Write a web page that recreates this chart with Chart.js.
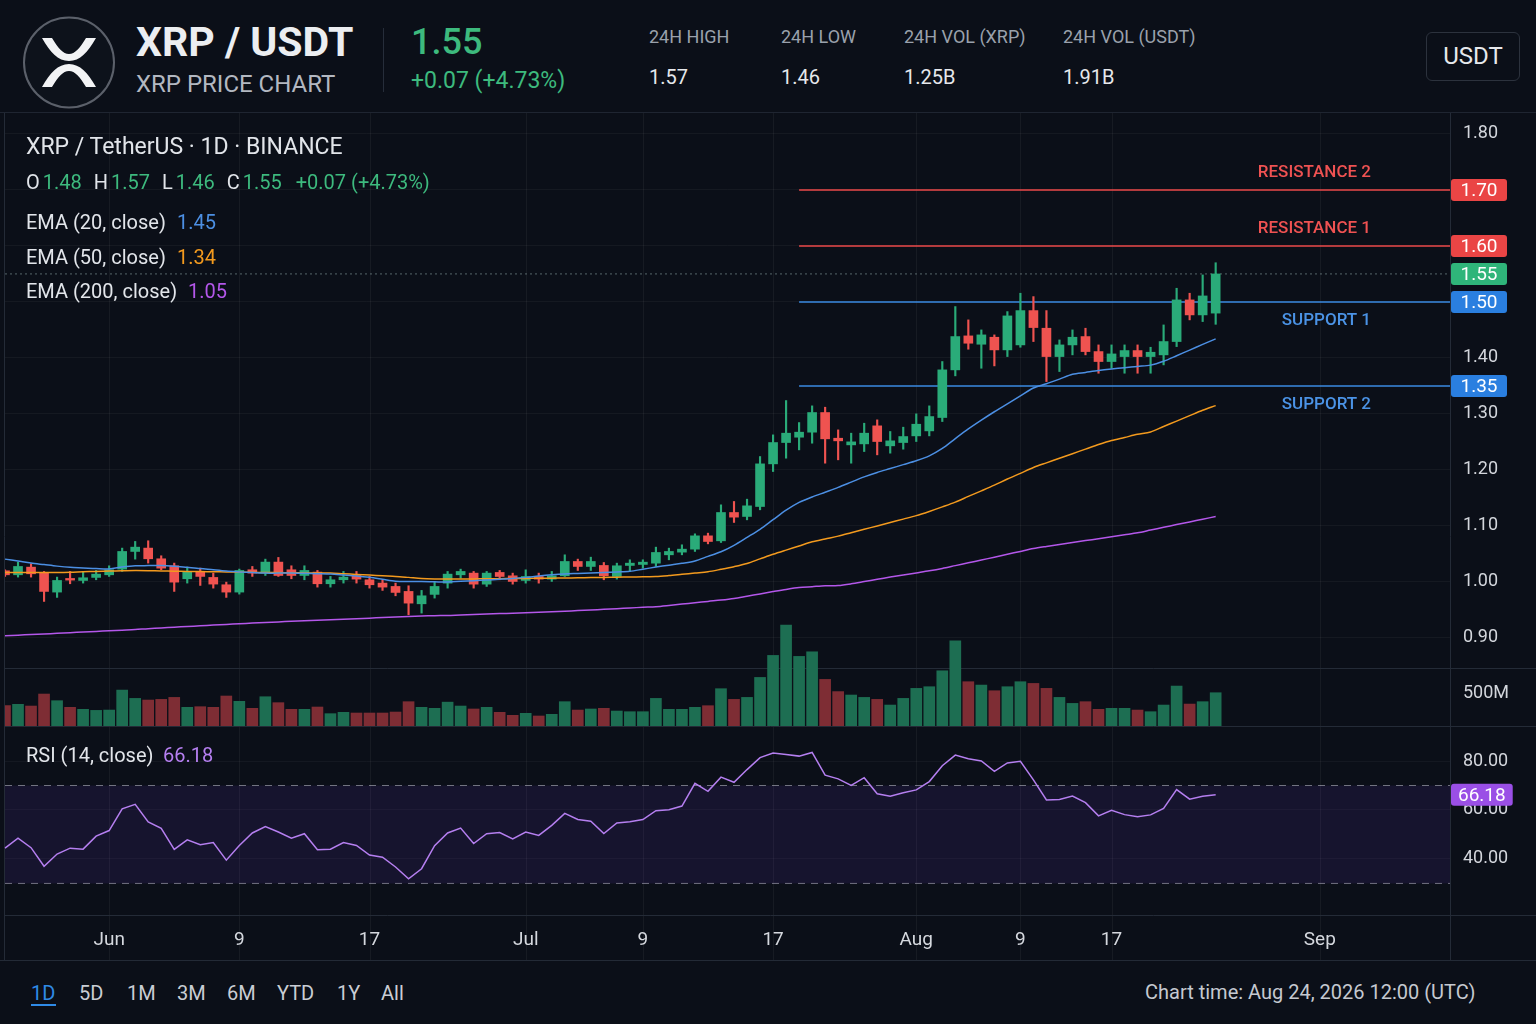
<!DOCTYPE html>
<html lang="en">
<head>
<meta charset="utf-8">
<title>XRP / USDT price chart</title>
<script src="https://cdn.jsdelivr.net/npm/chart.js@4.4.1/dist/chart.umd.min.js"></script>
<style>
  html, body { margin: 0; padding: 0; background: #0b0f18; }
  body { position: relative; width: 1536px; height: 1024px; overflow: hidden;
         font-family: Roboto, 'Noto Sans', sans-serif; color: #e6e8ec; }
  .t { position: absolute; white-space: nowrap; line-height: 1; }
  .up { color: #3dba7e; }
  .muted { color: #9aa1ac; }
  #header { position: absolute; left: 0; top: 0; width: 1536px; height: 113px;
            border-bottom: 1px solid #1f2531; box-sizing: border-box; }
  #chartWrap { position: absolute; left: 0; top: 113px; width: 1536px; height: 847px; }
  #footer { position: absolute; left: 0; top: 960px; width: 1536px; height: 64px;
            border-top: 1px solid #232a36; box-sizing: border-box; }
  .btn { position: absolute; left: 1426px; top: 32px; width: 94px; height: 49px;
         border: 1px solid #2c323d; border-radius: 6px; box-sizing: border-box;
         font-size: 24px; line-height: 47px; text-align: center; color: #e6e8ec; }
  .range { font-size: 20px; color: #c9cdd4; top: 983px; }
</style>
</head>
<body>

<div id="header">
  <svg class="t" style="left:0;top:0" width="140" height="113" viewBox="0 0 140 113">
    <circle cx="69" cy="62.5" r="45" fill="#0d121b" stroke="#5b606a" stroke-width="2"/>
    <path fill="#f2f3f5" d="M42 38 H52 C58 48 63 54 69 54 C75 54 80 48 86 38 H96 C88 52 80 61 69 61 C58 61 50 52 42 38 Z"/>
    <path fill="#f2f3f5" d="M42 87 H52 C58 77 63 71 69 71 C75 71 80 77 86 87 H96 C88 73 80 64 69 64 C58 64 50 73 42 87 Z"/>
  </svg>
  <div class="t" style="left:136px;top:22px;font-size:41px;font-weight:700;color:#eceef1">XRP / USDT</div>
  <div class="t" style="left:136px;top:72px;font-size:24px;color:#b3b8c1">XRP PRICE CHART</div>
  <div class="t" style="left:383px;top:28px;width:1px;height:64px;background:#262d3a"></div>
  <div class="t up" style="left:411px;top:24px;font-size:36px;font-weight:500">1.55</div>
  <div class="t up" style="left:411px;top:69px;font-size:23px">+0.07 (+4.73%)</div>

  <div class="t muted" style="left:649px;top:28px;font-size:18px">24H HIGH</div>
  <div class="t" style="left:649px;top:67px;font-size:20px">1.57</div>
  <div class="t muted" style="left:781px;top:28px;font-size:18px">24H LOW</div>
  <div class="t" style="left:781px;top:67px;font-size:20px">1.46</div>
  <div class="t muted" style="left:904px;top:28px;font-size:18px">24H VOL (XRP)</div>
  <div class="t" style="left:904px;top:67px;font-size:20px">1.25B</div>
  <div class="t muted" style="left:1063px;top:28px;font-size:18px">24H VOL (USDT)</div>
  <div class="t" style="left:1063px;top:67px;font-size:20px">1.91B</div>
  <div class="btn">USDT</div>
</div>

<div id="chartWrap"><canvas id="priceChart" width="1536" height="847"></canvas></div>

<!-- legend text over the chart -->
<div class="t" style="left:26px;top:135px;font-size:23px;color:#e2e5ea">XRP / TetherUS · 1D · BINANCE</div>
<div class="t" style="left:26px;top:172px;font-size:20px;color:#e2e5ea">
  O<span class="up" style="margin-left:3px">1.48</span>
  <span style="margin-left:7px">H</span><span class="up" style="margin-left:3px">1.57</span>
  <span style="margin-left:7px">L</span><span class="up" style="margin-left:3px">1.46</span>
  <span style="margin-left:7px">C</span><span class="up" style="margin-left:3px">1.55</span>
  <span class="up" style="margin-left:9px">+0.07 (+4.73%)</span>
</div>
<div class="t" style="left:26px;top:212px;font-size:20px;color:#e2e5ea">EMA (20, close)</div>
<div class="t" style="left:177px;top:212px;font-size:20px;color:#4c8fe3">1.45</div>
<div class="t" style="left:26px;top:247px;font-size:20px;color:#e2e5ea">EMA (50, close)</div>
<div class="t" style="left:177px;top:247px;font-size:20px;color:#f39a1e">1.34</div>
<div class="t" style="left:26px;top:281px;font-size:20px;color:#e2e5ea">EMA (200, close)</div>
<div class="t" style="left:188px;top:281px;font-size:20px;color:#b457ea">1.05</div>
<div class="t" style="left:26px;top:745px;font-size:20px;color:#e2e5ea">RSI (14, close)</div>
<div class="t" style="left:163px;top:745px;font-size:20px;color:#b57ff0">66.18</div>

<div id="footer"></div>
<div class="t range" style="left:31px;color:#2f8ae6">1D</div>
<div class="t" style="left:31px;top:1004px;width:25px;height:2px;background:#2f8ae6"></div>
<div class="t range" style="left:79px">5D</div>
<div class="t range" style="left:127px">1M</div>
<div class="t range" style="left:177px">3M</div>
<div class="t range" style="left:227px">6M</div>
<div class="t range" style="left:277px">YTD</div>
<div class="t range" style="left:337px">1Y</div>
<div class="t range" style="left:381px">All</div>
<div class="t" style="left:1145px;top:982px;font-size:20px;color:#c5c9d0">Chart time: Aug 24, 2026 12:00 (UTC)</div>

<script>
// daily candles
const opens = [1.0197,1.0125,1.0262,1.0155,0.9816,1.0060,1.0024,1.0078,1.0125,1.0227,
  1.0542,1.0602,1.0411,1.0286,1.0054,1.0185,1.0078,0.9947,0.9816,1.0215,
  1.0155,1.0352,1.0215,1.0113,1.0173,0.9965,1.0036,1.0113,1.0036,0.9977,
  0.9917,0.9828,0.9607,0.9775,0.9976,1.0125,1.0155,0.9958,1.0167,1.0107,
  1.0024,1.0095,1.0048,1.0107,1.0363,1.0274,1.0292,1.0095,1.0292,1.0310,
  1.0333,1.0482,1.0530,1.0583,1.0821,1.0732,1.1238,1.1167,1.1345,1.2107,
  1.2488,1.2583,1.2673,1.3024,1.2565,1.2446,1.2464,1.2786,1.2429,1.2488,
  1.2607,1.2696,1.2935,1.3786,1.4393,1.4244,1.4369,1.4143,1.4232,1.4845,
  1.4530,1.4024,1.4232,1.4381,1.4113,1.3935,1.4024,1.4131,1.4024,1.4054,
  1.4292,1.5036,1.4768,1.48];
const highs = [1.0215,1.0352,1.0322,1.0185,1.0084,1.0185,1.0185,1.0203,1.0286,1.0602,
  1.0721,1.0733,1.0465,1.0334,1.0262,1.0244,1.0155,0.9994,1.0227,1.0274,
  1.0405,1.0435,1.0286,1.0286,1.0203,1.0096,1.0185,1.0185,1.0096,1.0036,
  0.9977,0.9929,0.9846,1.0006,1.0185,1.0226,1.0185,1.0185,1.0203,1.0155,
  1.0214,1.0155,1.0185,1.0482,1.0405,1.0440,1.0345,1.0333,1.0393,1.0393,
  1.0619,1.0601,1.0661,1.0857,1.0869,1.1375,1.1435,1.1476,1.2238,1.2625,
  1.3238,1.2845,1.3143,1.3119,1.2714,1.2655,1.2833,1.2893,1.2685,1.2762,
  1.3000,1.3143,1.3935,1.4917,1.4679,1.4500,1.4411,1.4827,1.5155,1.5095,
  1.4845,1.4321,1.4500,1.4530,1.4232,1.4232,1.4232,1.4232,1.4190,1.4589,
  1.5244,1.5155,1.5482,1.57];
const lows = [1.0096,1.0084,1.0084,0.9649,0.9721,0.9965,0.9977,1.0036,1.0096,1.0185,
  1.0405,1.0334,1.0215,0.9828,0.9977,0.9935,0.9887,0.9721,0.9780,1.0096,
  1.0113,1.0096,1.0054,1.0036,0.9905,0.9905,0.9977,0.9977,0.9887,0.9846,
  0.9750,0.9411,0.9441,0.9709,0.9887,1.0065,0.9887,0.9917,1.0036,0.9958,
  0.9976,0.9976,1.0006,1.0095,1.0202,1.0202,1.0036,1.0048,1.0185,1.0244,
  1.0274,1.0393,1.0482,1.0542,1.0678,1.0702,1.1060,1.1107,1.1286,1.1970,
  1.2208,1.2357,1.2476,1.2119,1.2179,1.2119,1.2327,1.2268,1.2298,1.2369,
  1.2506,1.2607,1.2863,1.3679,1.4155,1.3815,1.3857,1.4024,1.4190,1.4292,
  1.3577,1.3756,1.4054,1.4054,1.3726,1.3815,1.3726,1.3726,1.3726,1.3875,
  1.4202,1.4679,1.4649,1.46];
const closes = [1.0125,1.0274,1.0143,0.9828,1.0024,1.0030,1.0072,1.0137,1.0215,1.0542,
  1.0619,1.0411,1.0244,0.9994,1.0185,1.0096,0.9959,0.9816,1.0203,1.0155,
  1.0352,1.0113,1.0113,1.0203,0.9965,1.0036,1.0084,1.0048,0.9947,0.9905,
  0.9810,0.9619,0.9750,0.9917,1.0137,1.0185,0.9958,1.0155,1.0095,1.0006,
  1.0095,1.0048,1.0107,1.0363,1.0274,1.0363,1.0107,1.0286,1.0333,1.0351,
  1.0524,1.0542,1.0583,1.0821,1.0720,1.1238,1.1155,1.1357,1.2107,1.2488,
  1.2655,1.2673,1.3024,1.2554,1.2518,1.2500,1.2655,1.2506,1.2518,1.2595,
  1.2815,1.2952,1.3786,1.4381,1.4262,1.4411,1.4143,1.4750,1.4845,1.4542,
  1.4024,1.4232,1.4369,1.4113,1.3935,1.4071,1.4131,1.4024,1.4101,1.4292,
  1.5036,1.4768,1.5107,1.55];

// volume in millions of XRP
const volumes = [310,329,303,485,384,283,253,237,242,545,
  419,394,404,434,283,293,283,455,374,268,
  444,354,253,253,288,187,207,197,197,197,
  212,369,283,268,362,303,258,283,207,162,
  192,152,177,369,242,258,268,227,217,217,
  419,253,253,283,308,566,404,434,737,1071,
  1530,1056,1126,707,522,470,434,404,318,419,
  571,596,838,1293,672,621,535,596,672,646,
  571,434,343,369,253,268,268,242,217,318,
  606,333,369,505];

const ema20 = [1.0405,1.0370,1.0334,1.0307,1.0280,1.0259,1.0248,1.0236,1.0230,1.0263,
  1.0286,1.0289,1.0291,1.0279,1.0259,1.0239,1.0214,1.0191,1.0177,1.0166,
  1.0155,1.0155,1.0155,1.0152,1.0145,1.0138,1.0122,1.0105,1.0080,1.0046,
  1.0011,1.0005,1.0005,1.0000,0.9996,1.0009,1.0020,1.0032,1.0045,1.0059,
  1.0079,1.0104,1.0125,1.0141,1.0150,1.0159,1.0168,1.0177,1.0188,1.0225,
  1.0263,1.0297,1.0330,1.0372,1.0454,1.0536,1.0652,1.0793,1.0938,1.1109,
  1.1279,1.1418,1.1515,1.1600,1.1686,1.1780,1.1875,1.1954,1.2023,1.2093,
  1.2163,1.2250,1.2382,1.2559,1.2731,1.2888,1.3038,1.3180,1.3322,1.3463,
  1.3537,1.3620,1.3707,1.3741,1.3775,1.3802,1.3825,1.3848,1.3871,1.3941,
  1.4039,1.4139,1.4241,1.4340];
const ema50 = [1.0166,1.0166,1.0166,1.0166,1.0166,1.0170,1.0179,1.0186,1.0191,1.0196,
  1.0200,1.0198,1.0193,1.0189,1.0186,1.0184,1.0179,1.0177,1.0173,1.0170,
  1.0166,1.0164,1.0161,1.0159,1.0157,1.0155,1.0143,1.0132,1.0120,1.0107,
  1.0096,1.0079,1.0061,1.0052,1.0048,1.0050,1.0052,1.0054,1.0055,1.0059,
  1.0061,1.0063,1.0064,1.0068,1.0071,1.0075,1.0079,1.0082,1.0086,1.0089,
  1.0093,1.0111,1.0134,1.0157,1.0180,1.0223,1.0270,1.0327,1.0409,1.0491,
  1.0566,1.0639,1.0714,1.0766,1.0816,1.0877,1.0938,1.0998,1.1059,1.1120,
  1.1182,1.1257,1.1338,1.1423,1.1525,1.1625,1.1727,1.1836,1.1938,1.2041,
  1.2125,1.2207,1.2289,1.2370,1.2452,1.2525,1.2579,1.2634,1.2677,1.2775,
  1.2870,1.2968,1.3064,1.3148];
const ema200 = [0.9036,0.9047,0.9057,0.9068,0.9080,0.9091,0.9102,0.9113,0.9125,0.9136,
  0.9147,0.9163,0.9175,0.9189,0.9202,0.9214,0.9227,0.9239,0.9250,0.9263,
  0.9273,0.9284,0.9293,0.9302,0.9311,0.9321,0.9330,0.9339,0.9350,0.9361,
  0.9370,0.9379,0.9389,0.9395,0.9398,0.9407,0.9414,0.9423,0.9432,0.9439,
  0.9448,0.9455,0.9464,0.9473,0.9486,0.9496,0.9509,0.9520,0.9532,0.9545,
  0.9555,0.9577,0.9602,0.9625,0.9650,0.9673,0.9702,0.9743,0.9784,0.9825,
  0.9864,0.9897,0.9913,0.9929,0.9934,0.9964,1.0004,1.0045,1.0084,1.0122,
  1.0159,1.0196,1.0239,1.0289,1.0339,1.0389,1.0439,1.0491,1.0543,1.0593,
  1.0631,1.0666,1.0700,1.0736,1.0770,1.0805,1.0840,1.0875,1.0924,1.0973,
  1.1022,1.1070,1.1118,1.1166];

const rsi = [44.4,48.5,44.6,37.0,42.0,44.4,44.0,49.3,51.6,60.5,
  62.3,55.1,52.5,43.9,47.8,45.8,46.7,39.5,45.5,50.6,
  53.2,51.0,48.5,50.3,43.8,44.0,46.7,45.5,41.6,40.7,
  36.7,31.9,36.0,45.4,50.6,52.6,46.3,50.3,50.8,48.2,
  51.0,49.6,53.7,58.6,56.1,55.4,50.4,54.7,55.2,56.1,
  59.7,60.1,61.6,70.9,67.6,73.4,71.3,76.5,81.4,83.3,
  82.7,82.0,83.5,74.2,72.7,70.0,73.2,66.6,65.6,67.0,
  68.2,71.6,78.1,82.4,80.9,80.0,75.8,79.2,79.9,72.3,
  64.1,64.3,65.7,63.0,57.6,59.9,58.1,57.2,58.0,60.6,
  68.3,64.4,65.6,66.18];

const lastPrice = 1.55;
const lastRsi = 66.18;
const levelValues = [1.70, 1.60, 1.50, 1.35];
const levelNames = ['RESISTANCE 2', 'RESISTANCE 1', 'SUPPORT 1', 'SUPPORT 2'];
const levelKinds = ['resistance', 'resistance', 'support', 'support'];
const levelFrom = 61; // day the horizontal levels were drawn from

const rsiBands = [70, 30];
const rsiTicks = [40, 60, 80];
const volumeTicks = [500];

// x axis: one slot per day, including empty days to the right
const dayCount = 112;
const xTickIndex = [8, 18, 28, 40, 49, 59, 70, 78, 85, 101];
const xTickText = ['Jun', '9', '17', 'Jul', '9', '17', 'Aug', '9', '17', 'Sep'];

const start = Date.UTC(2026, 4, 24);
const days = Array.from({ length: dayCount }, (_, i) =>
  new Date(start + i * 86400000).toISOString().slice(0, 10));
const firstDay = days[0];
const lastDay = days[dayCount - 1];

const UP = '#2aab79', DOWN = '#ef5350';
const VOL_UP = '#1d6e52', VOL_DOWN = '#7e2d34';
const RES = '#ec4a4a', SUP = '#3b8be2';
const FONT = "Roboto, 'Noto Sans', sans-serif";

const rising = opens.map((o, i) => closes[i] >= o);
const candleColors = rising.map(up => up ? UP : DOWN);
const volumeColors = rising.map(up => up ? VOL_UP : VOL_DOWN);

Chart.defaults.font.family = FONT;
Chart.defaults.color = '#d3d6dc';

function flatLine(value, from, to) {
  return [{ x: from, y: value }, { x: to, y: value }];
}

function badge(ctx, x, y, text, bg) {
  ctx.font = '19px ' + FONT;
  const w = Math.max(56, ctx.measureText(text).width + 14);
  const h = 22;
  ctx.fillStyle = bg;
  ctx.beginPath();
  ctx.roundRect(x, y - h / 2, w, h, 3);
  ctx.fill();
  ctx.fillStyle = '#ffffff';
  ctx.textAlign = 'center';
  ctx.textBaseline = 'middle';
  ctx.fillText(text, x + w / 2, y + 1);
}

// keep the panes flush with the canvas edges
function fitY(s) {
  s.width = 86;
  s.paddingTop = 0;
  s.paddingBottom = 0;
}
function fitX(s) {
  s.height = 45;
  s.paddingLeft = 0;
  s.paddingRight = 0;
}

const panels = {
  id: 'panels',
  beforeDatasetsDraw(chart) {
    const { ctx, chartArea, scales } = chart;
    const x = scales.x;
    ctx.save();
    ctx.lineWidth = 1;
    // day grid, carried down through the date strip
    ctx.strokeStyle = 'rgba(255,255,255,0.05)';
    x.ticks.forEach((t, i) => {
      if (!t.label) return;
      const px = Math.round(x.getPixelForTick(i)) + 0.5;
      ctx.beginPath();
      ctx.moveTo(px, chartArea.top);
      ctx.lineTo(px, x.bottom);
      ctx.stroke();
    });
    // pane separators and frame
    ctx.strokeStyle = '#242b37';
    [scales.yVol.top, scales.yRsi.top, x.top].forEach(y => {
      const py = Math.round(y) + 0.5;
      ctx.beginPath();
      ctx.moveTo(chartArea.left, py);
      ctx.lineTo(chart.width, py);
      ctx.stroke();
    });
    ctx.beginPath();
    ctx.moveTo(chartArea.left - 0.5, 0);
    ctx.lineTo(chartArea.left - 0.5, chart.height);
    ctx.moveTo(chartArea.right + 0.5, 0);
    ctx.lineTo(chartArea.right + 0.5, chart.height);
    ctx.stroke();
    ctx.restore();
  },
  afterDraw(chart) {
    const { ctx, chartArea, scales } = chart;
    ctx.save();
    levelValues.forEach((v, i) => {
      const y = scales.y.getPixelForValue(v);
      const support = levelKinds[i] === 'support';
      ctx.font = '500 17px ' + FONT;
      ctx.fillStyle = support ? '#4b93e6' : '#f05252';
      ctx.textAlign = 'right';
      ctx.textBaseline = 'middle';
      ctx.fillText(levelNames[i], chartArea.right - 79, support ? y + 19 : y - 17);
    });
    badge(ctx, chartArea.right + 1, scales.y.getPixelForValue(lastPrice), lastPrice.toFixed(2), '#2fb57a');
    levelValues.forEach((v, i) => {
      badge(ctx, chartArea.right + 1, scales.y.getPixelForValue(v), v.toFixed(2),
        levelKinds[i] === 'support' ? '#2a7fe0' : '#ea4545');
    });
    badge(ctx, chartArea.right + 1, scales.yRsi.getPixelForValue(lastRsi), lastRsi.toFixed(2), '#9a4fe6');
    ctx.restore();
  }
};

const levelDatasets = levelValues.map((v, i) => ({
  type: 'line',
  label: levelNames[i],
  data: flatLine(v, days[levelFrom], lastDay),
  borderColor: levelKinds[i] === 'support' ? SUP : RES,
  borderWidth: 1.5,
  pointRadius: 0,
  yAxisID: 'y',
  order: 3
}));

const tickFont = { size: 18, family: FONT };

new Chart(document.getElementById('priceChart'), {
  type: 'bar',
  data: {
    labels: days,
    datasets: [
      { type: 'line', label: 'EMA 20', data: ema20, borderColor: '#4c8fe3', borderWidth: 1.5,
        pointRadius: 0, tension: 0.3, yAxisID: 'y', order: 0 },
      { type: 'line', label: 'EMA 50', data: ema50, borderColor: '#f39a1e', borderWidth: 1.5,
        pointRadius: 0, tension: 0.3, yAxisID: 'y', order: 0 },
      { type: 'line', label: 'EMA 200', data: ema200, borderColor: '#b457ea', borderWidth: 1.5,
        pointRadius: 0, tension: 0.3, yAxisID: 'y', order: 0 },
      { type: 'line', label: 'Last price', data: flatLine(lastPrice, firstDay, lastDay),
        borderColor: 'rgba(150,175,175,0.55)', borderWidth: 1, borderDash: [2, 3],
        pointRadius: 0, yAxisID: 'y', order: 3 },
      ...levelDatasets,
      { label: 'Body', data: opens.map((o, i) => [o, closes[i]]), backgroundColor: candleColors,
        barThickness: 9, minBarLength: 1.5, grouped: false, yAxisID: 'y', order: 1 },
      { label: 'Wick', data: lows.map((l, i) => [l, highs[i]]), backgroundColor: candleColors,
        barThickness: 1.5, grouped: false, yAxisID: 'y', order: 2 },
      { label: 'Volume', data: volumes, backgroundColor: volumeColors, barThickness: 11,
        grouped: false, yAxisID: 'yVol', order: 6,
        clip: { left: 0, right: 0, top: false, bottom: 0 } },
      { type: 'line', label: 'RSI 70', data: flatLine(rsiBands[0], firstDay, lastDay),
        borderColor: 'rgba(200,202,212,0.55)', borderWidth: 1, borderDash: [7, 6],
        pointRadius: 0, fill: '+1', backgroundColor: 'rgba(105,60,205,0.12)', yAxisID: 'yRsi', order: 4 },
      { type: 'line', label: 'RSI 30', data: flatLine(rsiBands[1], firstDay, lastDay),
        borderColor: 'rgba(200,202,212,0.55)', borderWidth: 1, borderDash: [7, 6],
        pointRadius: 0, fill: false, yAxisID: 'yRsi', order: 4 },
      { type: 'line', label: 'RSI', data: rsi, borderColor: '#b57ff0', borderWidth: 1.5,
        pointRadius: 0, tension: 0, yAxisID: 'yRsi', order: 0 }
    ]
  },
  options: {
    responsive: false,
    animation: false,
    layout: { padding: { left: 5 } },
    plugins: { legend: { display: false }, tooltip: { enabled: false } },
    scales: {
      x: {
        type: 'category',
        offset: false,
        grid: { display: false },
        border: { display: false },
        ticks: {
          autoSkip: false, maxRotation: 0, padding: 6, color: '#d5d8de',
          font: { size: 19, family: FONT },
          callback: (value, index) => {
            const k = xTickIndex.indexOf(index);
            return k >= 0 ? xTickText[k] : '';
          }
        },
        afterFit: fitX
      },
      y: {
        position: 'right', stack: 'panes', stackWeight: 555, weight: 1,
        min: 0.846, max: 1.8375,
        grid: { color: 'rgba(255,255,255,0.045)', drawTicks: false },
        border: { display: false },
        ticks: { stepSize: 0.1, includeBounds: false, padding: 13, font: tickFont,
                 callback: v => v.toFixed(2) },
        afterFit: fitY
      },
      yVol: {
        position: 'right', stack: 'panes', stackWeight: 58, weight: 2,
        min: 0, max: 880,
        grid: { display: false },
        border: { display: false },
        ticks: { padding: 5, font: tickFont, callback: v => v + 'M' },
        afterBuildTicks: s => { s.ticks = volumeTicks.map(v => ({ value: v })); },
        afterFit: fitY
      },
      yRsi: {
        position: 'right', stack: 'panes', stackWeight: 189, weight: 3,
        min: 17.1, max: 94.3,
        grid: { color: 'rgba(255,255,255,0.04)', drawTicks: false },
        border: { display: false },
        ticks: { padding: 13, font: tickFont, callback: v => v.toFixed(2) },
        afterBuildTicks: s => { s.ticks = rsiTicks.map(v => ({ value: v })); },
        afterFit: fitY
      }
    }
  },
  plugins: [panels]
});
</script>
</body>
</html>
